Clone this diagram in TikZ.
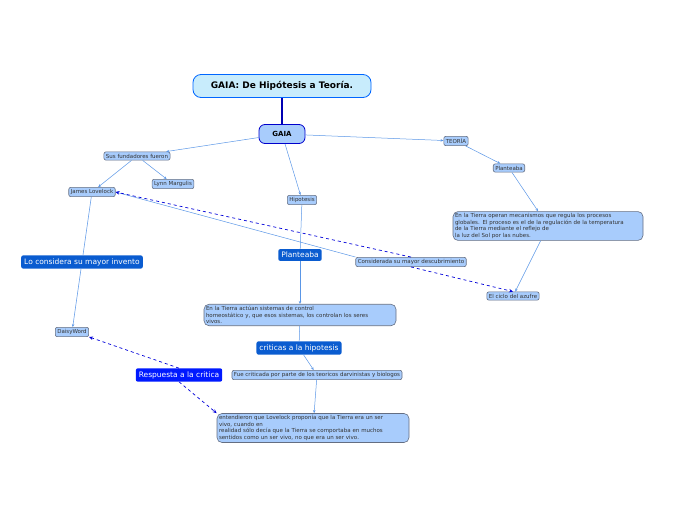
\documentclass[tikz,border=0pt]{standalone}
\usepackage{fontspec}
\setmainfont{DejaVu Sans}
\usetikzlibrary{arrows.meta}
\definecolor{boxfill}{RGB}{168,204,252}
\definecolor{boxline}{RGB}{100,110,130}
\definecolor{darkbox}{RGB}{10,92,208}
\definecolor{linkblue}{RGB}{90,150,230}
\definecolor{titlefill}{RGB}{200,236,252}
\tikzset{
  topic/.style={draw=boxline,fill=boxfill,rounded corners=2pt,line width=0.6pt,font=\fontsize{5.5}{6.5}\selectfont,text=black!80,inner sep=2pt},
  para/.style={topic,text width=#1,align=left,rounded corners=5pt},
  dark/.style={fill=darkbox,rounded corners=2pt,text=white,font=\fontsize{7.5}{9}\selectfont,inner sep=3pt},
  link/.style={draw=linkblue,line width=0.5pt,-{Stealth[length=3pt,width=2.5pt]}},
  plain/.style={draw=linkblue,line width=0.5pt},
  relation/.style={draw=blue!85!black,dashed,line width=0.7pt,-{Stealth[length=4pt,width=3.5pt]}}
}
\begin{document}
\begin{tikzpicture}[x=1pt,y=-1pt]
\useasboundingbox (0,0) rectangle (697,520);

% central topics
\node[draw=blue!60!cyan,fill=titlefill,rounded corners=8pt,line width=0.8pt,minimum width=178pt,minimum height=23pt,font=\bfseries\fontsize{9}{11}\selectfont] (title) at (282,86) {GAIA: De Hipótesis a Teoría.};
\node[draw=blue!80!black,fill=boxfill,rounded corners=6pt,line width=0.8pt,minimum width=46pt,minimum height=19pt,font=\bfseries\fontsize{7}{8}\selectfont] (gaia) at (282,134) {GAIA};

% left branch
\node[topic] (founders) at (137,156) {Sus fundadores fueron};
\node[topic] (james) at (92,192) {James Lovelock};
\node[topic] (lynn) at (173,184) {Lynn Margulis};
\node[dark] (invento) at (82,262) {Lo considera su mayor invento};
\node[topic] (daisy) at (72,332) {DaisyWord};

% middle branch
\node[topic] (hipo) at (302,200) {Hipotesis};
\node[dark] (plantea) at (300,255) {Planteaba};
\node[para=188pt] (actuan) at (300,315) {En la Tierra actúan sistemas de control\\homeostático y, que esos sistemas, los controlan los seres\\vivos.};
\node[dark] (criticas) at (299,348) {criticas a la hipotesis};
\node[topic] (fue) at (317,375) {Fue criticada por parte de los teoricos darvinistas y biologos};
\node[dark,fill=blue!90!cyan] (respuesta) at (179,375) {Respuesta a la critica};
\node[para=188pt] (entend) at (313,428) {entendieron que Lovelock proponía que la Tierra era un ser\\vivo, cuando en\\realidad sólo decía que la Tierra se comportaba en muchos\\sentidos como un ser vivo, no que era un ser vivo.};

% right branch
\node[topic] (teoria) at (456,141) {TEORÍA};
\node[topic] (plantr) at (509,168) {Planteaba};
\node[para=186pt] (operan) at (548,226) {En la Tierra operan mecanismos que regula los procesos\\globales. El proceso es el de la regulación de la temperatura\\de la Tierra mediante el reflejo de\\ la luz del Sol por las nubes.};
\node[topic] (consid) at (411,262) {Considerada su mayor descubrimiento};
\node[topic] (azufre) at (513,296) {El ciclo del azufre};

% connectors
\draw[draw=blue!70!black,line width=1.5pt] (title) -- (gaia);
\draw[link] (gaia) -- (founders);
\draw[link] (founders) -- (james);
\draw[link] (founders) -- (lynn);
\draw[plain] (james) -- (invento);
\draw[link] (invento) -- (daisy);
\draw[link] (gaia) -- (hipo);
\draw[plain] (hipo) -- (plantea);
\draw[link] (plantea) -- (actuan);
\draw[plain] (actuan) -- (criticas);
\draw[link] (criticas) -- (fue);
\draw[link] (fue) -- (entend);
\draw[link] (gaia) -- (teoria);
\draw[link] (teoria) -- (plantr);
\draw[link] (plantr) -- (operan);
\draw[link] (operan) -- (azufre);
\draw[link] (consid.north west) -- (james.east);
\draw[relation] (consid.north) -- (james.east);
\draw[relation] (consid.south) -- (azufre.north);
\draw[relation] (respuesta.north) -- (daisy.south east);
\draw[relation] (respuesta.south) -- (entend.north west);
\end{tikzpicture}
\end{document}
